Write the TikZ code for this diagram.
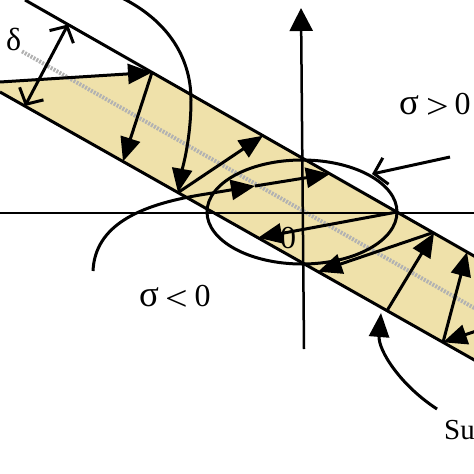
\documentclass[tikz,border=0pt]{standalone}
\usepackage{graphicx}
\usepackage{fontspec}
\setmainfont{Liberation Serif}
\usetikzlibrary{arrows.meta}
\definecolor{bandfill}{RGB}{239,225,170}
\definecolor{slidegray}{RGB}{178,178,178}
\newcommand{\sig}{\scalebox{1.15}{σ}}
\newcommand{\rel}[1]{\raisebox{-4pt}{\scalebox{1.25}[1.1]{#1}}}
\begin{document}
\begin{tikzpicture}[x=1pt,y=-1pt,
  ln/.style={line width=3pt, black},
  axis/.style={line width=2.5pt, black},
  tri/.style={-{Triangle[length=24pt,width=20pt]}},
  barb/.style={-{Straight Barb[length=12pt,width=27pt]}},
  dbarb/.style={{Straight Barb[length=12pt,width=27pt]}-{Straight Barb[length=12pt,width=27pt]}},
  lbl/.style={inner sep=0pt, font=\fontsize{32}{32}\selectfont}]
\useasboundingbox (0,0) rectangle (474,474);
\begin{scope}
\clip (0,0) rectangle (474,474);
% key points
\coordinate (a0) at (0,82);
\coordinate (a1) at (152,72.4);
\coordinate (a2) at (123,161.5);
\coordinate (b0) at (118,-4);
\coordinate (b1) at (178,192.6);
\coordinate (c1) at (263,135.7);
\coordinate (s0) at (93,271);
\coordinate (s1) at (200,195);
\coordinate (s2) at (255,186);
\coordinate (s3) at (330,173.9);
\coordinate (d0) at (397,212);
\coordinate (d1) at (258,237.8);
\coordinate (e0) at (433,232.6);
\coordinate (e1) at (318,271.7);
\coordinate (f0) at (437,409);
\coordinate (f1) at (381,313);
\coordinate (f2) at (387,310.7);
\coordinate (f3) at (434,233.1);
\coordinate (g0) at (443,342.3);
\coordinate (g1) at (467,252);
\coordinate (h0) at (485,328);
\coordinate (p0) at (450,157);
\coordinate (p1) at (372,174);
\coordinate (q0) at (25,106);
\coordinate (q1) at (68,24.5);
\coordinate (ec) at (302,212);
% band
\fill[bandfill] (a0) -- (a1) -- (480,259.4) -- (480,363.2) -- (0,92) -- cycle;
\draw[slidegray, line width=4pt, dash pattern=on 2pt off 1.3pt] (22,51.4) -- (480,311.3);
\draw[ln] (25,0) -- (480,259.4);
\draw[ln] (0,92) -- (480,363.2);
% axes
\draw[axis] (0,213) -- (474,213);
\draw[axis, -{Triangle[length=23pt,width=23pt]}] (304,349) -- (301,8);
% ellipse
\draw[ln] (ec) ellipse [x radius=95pt, y radius=52pt];
% trajectories
\draw[ln,tri] (a0) -- (a1);
\draw[ln,tri] (a1) -- (a2);
\draw[ln,tri] (b0) .. controls (165,18) and (191,55) .. (191,100) .. controls (191,140) and (182,170) .. (b1);
\draw[ln,tri] (b1) -- (c1);
\draw[ln,tri] (s0) .. controls (95,225) and (140,205) .. (s1) -- (s2);
\draw[ln,tri] (s2) -- (s3);
\draw[ln,tri] (d0) -- (d1);
\draw[ln,tri] (e0) -- (e1);
\draw[ln,tri] (f0) .. controls (400,385) and (378,350) .. (f1);
\draw[ln,tri] (f2) -- (f3);
\draw[ln,tri] (h0) -- (g0);
\draw[ln,tri] (g0) -- (g1);
\draw[ln,barb] (p0) -- (p1);
\draw[ln,dbarb] (q0) -- (q1);
% labels
\node[lbl, anchor=base west] (sgp) at (399,114) {\sig\hspace{7pt}\rel{>}\hspace{6pt}0};
\node[lbl, anchor=base west] (sgn) at (139,306) {\sig\hspace{6pt}\rel{<}\hspace{7pt}0};
\node[lbl, anchor=base west, font=\fontsize{29}{29}\selectfont] (su) at (444,439) {Su};
\node[lbl, anchor=base west] (dl) at (6,50) {δ};
\node[lbl, anchor=base] (zr) at (288,248) {0};
\end{scope}
\end{tikzpicture}
\end{document}
